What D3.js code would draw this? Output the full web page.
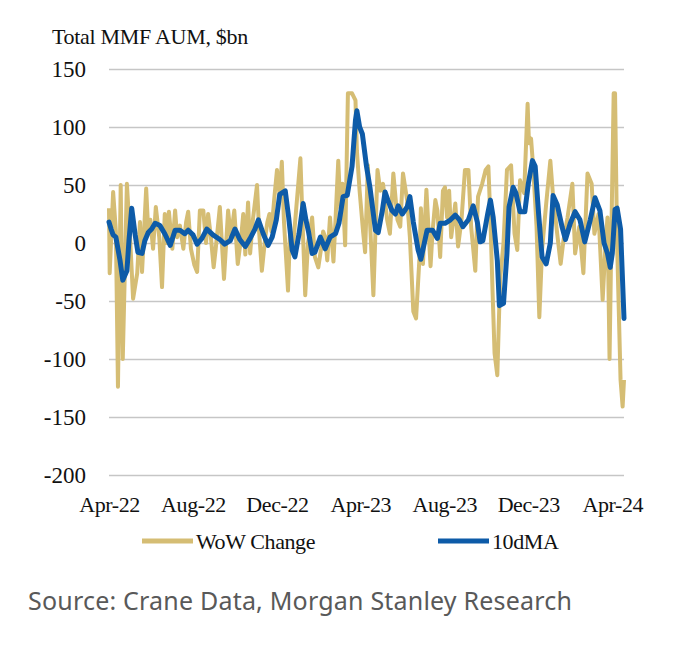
<!DOCTYPE html>
<html>
<head>
<meta charset="utf-8">
<script src="https://cdn.jsdelivr.net/npm/d3@7"></script>
<style>
  body { margin: 0; background: #fff; }
  svg { display: block; }
</style>
</head>
<body>
<script>
// WoW change (gold) at its turning points
var wowDates = ["2022-04-01","2022-04-02","2022-04-07","2022-04-11","2022-04-14","2022-04-18","2022-04-21","2022-04-27","2022-05-02","2022-05-06",
  "2022-05-12","2022-05-16","2022-05-19","2022-05-25","2022-05-28","2022-05-31","2022-06-04","2022-06-08","2022-06-13","2022-06-17",
  "2022-06-21","2022-06-24","2022-06-27","2022-07-02","2022-07-06","2022-07-09","2022-07-13","2022-07-18","2022-07-22","2022-07-25",
  "2022-07-29","2022-08-03","2022-08-07","2022-08-11","2022-08-16","2022-08-20","2022-08-23","2022-08-27","2022-08-31","2022-09-03",
  "2022-09-09","2022-09-15","2022-09-21","2022-09-25","2022-09-30","2022-10-03","2022-10-05","2022-10-10","2022-10-13","2022-10-16",
  "2022-10-20","2022-10-23","2022-10-27","2022-11-02","2022-11-05","2022-11-09","2022-11-14","2022-11-17","2022-11-20","2022-11-23",
  "2022-11-27","2022-12-01","2022-12-05","2022-12-08","2022-12-11","2022-12-17","2022-12-20","2022-12-24","2022-12-29","2023-01-04",
  "2023-01-07","2023-01-11","2023-01-15","2023-01-21","2023-01-25","2023-01-30","2023-02-03","2023-02-06","2023-02-09","2023-02-12",
  "2023-02-16","2023-02-21","2023-02-24","2023-02-28","2023-03-03","2023-03-06","2023-03-10","2023-03-14","2023-03-20","2023-03-25",
  "2023-03-27","2023-03-31","2023-04-05","2023-04-08","2023-04-12","2023-04-15","2023-04-20","2023-04-23","2023-04-26","2023-04-30",
  "2023-05-04","2023-05-10","2023-05-14","2023-05-19","2023-05-25","2023-05-29","2023-06-02","2023-06-08","2023-06-12","2023-06-17",
  "2023-06-21","2023-06-26","2023-06-28","2023-07-01","2023-07-06","2023-07-12","2023-07-15","2023-07-19","2023-07-22","2023-07-26",
  "2023-07-30","2023-08-02","2023-08-05","2023-08-08","2023-08-11","2023-08-17","2023-08-21","2023-08-26","2023-08-31","2023-09-05",
  "2023-09-09","2023-09-15","2023-09-19","2023-09-25","2023-09-30","2023-10-04","2023-10-07","2023-10-10","2023-10-13","2023-10-17",
  "2023-10-21","2023-10-26","2023-10-31","2023-11-06","2023-11-11","2023-11-15","2023-11-19","2023-11-25","2023-11-30","2023-12-02",
  "2023-12-05","2023-12-08","2023-12-13","2023-12-17","2023-12-21","2023-12-27","2024-01-02","2024-01-06","2024-01-12","2024-01-17",
  "2024-01-21","2024-01-27","2024-02-03","2024-02-07","2024-02-13","2024-02-19","2024-02-25","2024-03-02","2024-03-06","2024-03-12",
  "2024-03-18","2024-03-22","2024-03-25","2024-03-28","2024-03-31","2024-04-03","2024-04-05","2024-04-08","2024-04-13","2024-04-16",
  "2024-04-18"];
var wowValues = [30,-26,44,10,-124,50,-100,51,0,-48,
  -26,18,-25,47,10,20,-5,31,5,-38,
  25,0,27,-5,28,5,15,-5,18,27,
  -5,-19,-25,28,28,0,25,5,-21,-5,
  31,-31,28,5,28,0,-18,5,25,-10,
  35,-9,20,50,10,-24,5,18,25,10,
  38,63,40,70,20,-41,10,-5,30,73,
  20,-45,0,22,-12,-21,-5,10,5,-15,
  22,-16,20,71,30,51,-2,129,129,123,
  80,45,10,-8,67,20,-45,10,63,45,
  51,20,8,60,20,14,60,37,5,-59,
  -65,-12,30,-18,46,-20,10,37,28,-12,
  45,48,22,45,5,34,-3,20,63,63,
  14,-24,40,51,63,66,20,-40,-95,-114,
  -32,0,63,67,8,-6,54,43,120,86,
  90,66,14,-64,-6,34,71,40,8,-18,
  2,22,51,-9,14,-26,60,51,8,25,
  -49,-3,22,-100,20,129,129,-1,-118,-141,
  -118];

// 10dMA (blue)
var maDates = ["2022-04-01","2022-04-04","2022-04-07","2022-04-11","2022-04-17","2022-04-21","2022-04-27","2022-04-30","2022-05-04","2022-05-09",
  "2022-05-13","2022-05-19","2022-05-23","2022-05-28","2022-06-02","2022-06-07","2022-06-14","2022-06-21","2022-06-29","2022-07-06",
  "2022-07-13","2022-07-20","2022-07-25","2022-08-01","2022-08-07","2022-08-14","2022-08-21","2022-08-30","2022-09-09","2022-09-16",
  "2022-09-24","2022-10-01","2022-10-08","2022-10-16","2022-10-23","2022-10-30","2022-11-04","2022-11-11","2022-11-18","2022-11-24",
  "2022-11-30","2022-12-05","2022-12-13","2022-12-18","2022-12-23","2022-12-27","2023-01-02","2023-01-08","2023-01-12","2023-01-16",
  "2023-01-21","2023-01-25","2023-02-02","2023-02-09","2023-02-16","2023-02-24","2023-03-01","2023-03-07","2023-03-13","2023-03-20",
  "2023-03-25","2023-03-27","2023-03-31","2023-04-04","2023-04-10","2023-04-15","2023-04-23","2023-04-27","2023-05-03","2023-05-07",
  "2023-05-11","2023-05-17","2023-05-22","2023-05-26","2023-06-01","2023-06-08","2023-06-12","2023-06-17","2023-06-24","2023-06-28",
  "2023-07-03","2023-07-07","2023-07-15","2023-07-22","2023-07-26","2023-08-02","2023-08-10","2023-08-17","2023-08-23","2023-08-28",
  "2023-09-05","2023-09-12","2023-09-18","2023-09-22","2023-09-26","2023-10-03","2023-10-07","2023-10-11","2023-10-17","2023-10-20",
  "2023-10-26","2023-10-31","2023-11-03","2023-11-09","2023-11-13","2023-11-19","2023-11-26","2023-12-01","2023-12-07","2023-12-11",
  "2023-12-16","2023-12-21","2023-12-27","2024-01-02","2024-01-06","2024-01-12","2024-01-19","2024-01-24","2024-01-31","2024-02-07",
  "2024-02-14","2024-02-21","2024-02-29","2024-03-07","2024-03-14","2024-03-20","2024-03-25","2024-03-29","2024-04-01","2024-04-05",
  "2024-04-08","2024-04-13","2024-04-18"];
var maValues = [18,12,7,5,-15,-32,-24,2,30,7,
  -8,-9,2,9,12,17,15,8,-2,11,
  11,8,11,7,-1,4,12,7,3,-1,
  2,12,3,-3,4,12,20,8,-2,5,
  20,42,45,22,-6,-12,8,34,20,9,
  -9,-8,5,-5,5,8,17,40,41,66,
  106,114,100,94,66,48,11,9,28,44,
  37,28,25,32,25,31,40,18,-6,-14,
  0,11,11,4,17,17,20,24,20,14,
  20,32,18,1,2,25,37,22,-15,-54,
  -52,-9,31,48,43,27,27,51,71,66,
  25,-12,-18,0,41,33,14,3,17,27,
  20,1,20,39,28,0,-9,-21,-9,29,
  30,12,-65];

var yTicks = [150, 100, 50, 0, -50, -100, -150, -200];
var xTickLabels = ["Apr-22", "Aug-22", "Dec-22", "Apr-23", "Aug-23", "Dec-23", "Apr-24"];
var xTickDates = ["2022-04-01", "2022-08-01", "2022-12-01", "2023-04-01", "2023-08-01", "2023-12-01", "2024-04-01"];
var seriesNames = ["WoW Change", "10dMA"];

var parse = d3.timeParse("%Y-%m-%d");
var gold = "#D5BD74";
var blue = "#0D5BA8";
var serif = "'Liberation Serif', 'Times New Roman', serif";

var width = 677, height = 645;
var svg = d3.select("body").append("svg")
  .attr("width", width)
  .attr("height", height);

var x = d3.scaleTime()
  .domain([parse("2022-04-01"), parse("2024-04-18")])
  .range([109, 624]);

var y = d3.scaleLinear()
  .domain([-200, 150])
  .range([475, 69]);

// Titel
svg.append("text")
  .attr("x", 52)
  .attr("y", 44)
  .style("font-family", serif)
  .style("font-size", "22px")
  .attr("letter-spacing", "-0.3px")
  .attr("fill", "#111")
  .text("Total MMF AUM, $bn");

// Gitterlinien + y-Beschriftung
var yAxis = svg.append("g")
  .attr("transform", "translate(109,0)")
  .call(d3.axisLeft(y).tickValues(yTicks).tickSize(-(624 - 109)).tickPadding(23)
    .tickFormat(function(d) { return String(d); }));
yAxis.select(".domain").remove();
yAxis.selectAll(".tick line").attr("stroke", "#C6C6C6").attr("stroke-width", 1.3);
yAxis.selectAll(".tick text")
  .style("font-family", serif)
  .style("font-size", "23px")
  .attr("fill", "#111");

// x-Beschriftung
var xAxis = svg.append("g")
  .attr("transform", "translate(0,475)")
  .call(d3.axisBottom(x).tickValues(xTickDates.map(parse)).tickSize(0).tickPadding(21)
    .tickFormat(function(d, i) { return xTickLabels[i]; }));
xAxis.select(".domain").remove();
xAxis.selectAll(".tick text")
  .style("font-family", serif)
  .style("font-size", "22px")
  .attr("letter-spacing", "-0.4px")
  .attr("fill", "#111");

// Linien
var line = d3.line()
  .x(function(d) { return x(d[0]); })
  .y(function(d) { return y(d[1]); });

var wow = wowDates.map(function(d, i) { return [parse(d), wowValues[i]]; });
var ma = maDates.map(function(d, i) { return [parse(d), maValues[i]]; });

svg.append("path")
  .datum(wow)
  .attr("d", line)
  .attr("fill", "none")
  .attr("stroke", gold)
  .attr("stroke-width", 4)
  .attr("stroke-linejoin", "round");

svg.append("path")
  .datum(ma)
  .attr("d", line)
  .attr("fill", "none")
  .attr("stroke", blue)
  .attr("stroke-width", 5)
  .attr("stroke-linejoin", "round")
  .attr("stroke-linecap", "round");

// Legende
var legend = svg.append("g");
var legendItems = [{x: 142, color: gold}, {x: 438, color: blue}];
legendItems.forEach(function(item, i) {
  legend.append("line")
    .attr("x1", item.x).attr("x2", item.x + 51)
    .attr("y1", 541).attr("y2", 541)
    .attr("stroke", item.color)
    .attr("stroke-width", 5);
  legend.append("text")
    .attr("x", item.x + 54)
    .attr("y", 549)
    .style("font-family", serif)
    .style("font-size", "22px")
    .attr("letter-spacing", "-0.4px")
    .attr("fill", "#111")
    .text(seriesNames[i]);
});

// Quelle
svg.append("text")
  .attr("x", 28)
  .attr("y", 610)
  .style("font-family", "'Noto Sans', sans-serif")
  .style("font-size", "25px")
  .attr("textLength", 544)
  .attr("fill", "#595959")
  .text("Source: Crane Data, Morgan Stanley Research");
</script>
</body>
</html>
